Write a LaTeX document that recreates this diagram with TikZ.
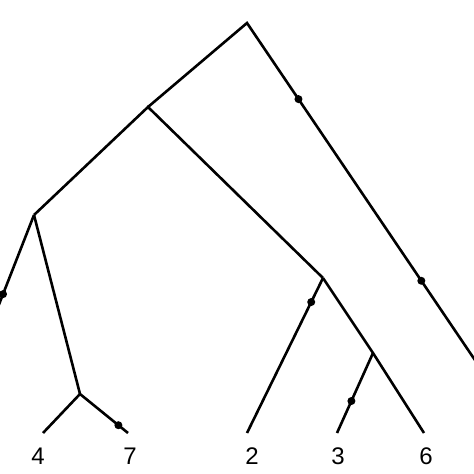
\documentclass[tikz,border=0pt]{standalone}
\usepackage{fontspec}
\setmainfont{Liberation Sans}
\begin{document}
\begin{tikzpicture}[x=1pt,y=-1pt,
  branch/.style={line width=2.6pt,line cap=butt,line join=miter},
  dot/.style={circle,fill=black,inner sep=0pt,minimum size=8pt},
  leaflabel/.style={font=\fontsize{24}{24}\selectfont,inner sep=0pt,anchor=center}]
\useasboundingbox (0,0) rectangle (474,474);
\clip (0,0) rectangle (474,474);
\coordinate (root) at (247,23);
\coordinate (A) at (148,107);
\coordinate (B) at (34,215);
\coordinate (C) at (323,278);
\coordinate (D) at (80,394);
\coordinate (E) at (373,353);
\coordinate (R) at (481,369);
\coordinate (L) at (-2,307);
\coordinate (l4) at (43,433);
\coordinate (l7) at (128,433);
\coordinate (l2) at (247,433);
\coordinate (l3) at (337,433);
\coordinate (l6) at (424,433);
\draw[branch] (A) -- (root) -- (R)
  node[dot,pos=0.22]{} node[dot,pos=0.745]{};
\draw[branch] (B) -- (A) -- (C);
\draw[branch] (B) -- (L) node[dot,pos=0.86]{};
\draw[branch] (B) -- (D);
\draw[branch] (l4) -- (D) -- (l7) node[dot,pos=0.8]{};
\draw[branch] (C) -- (l2) node[dot,pos=0.155]{};
\draw[branch] (C) -- (E) -- (l6);
\draw[branch] (E) -- (l3) node[dot,pos=0.6]{};
\node[leaflabel] (t4) at (38,456) {4};
\node[leaflabel] (t7) at (130,456) {7};
\node[leaflabel] (t2) at (252,456) {2};
\node[leaflabel] (t3) at (338,456) {3};
\node[leaflabel] (t6) at (426,456) {6};
\end{tikzpicture}
\end{document}
